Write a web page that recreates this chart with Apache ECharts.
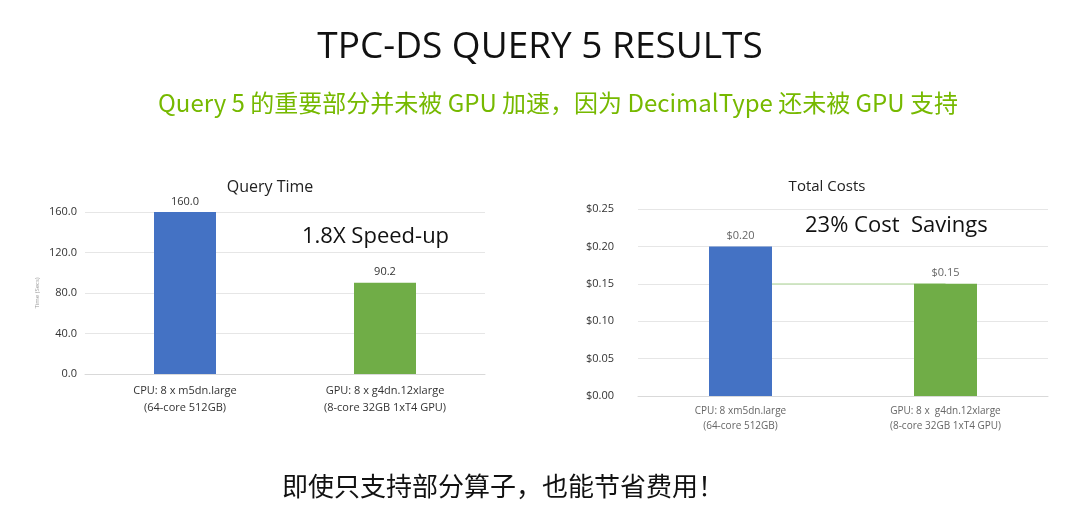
<!DOCTYPE html>
<html><head><meta charset="utf-8">
<script src="https://cdn.jsdelivr.net/npm/echarts@6/dist/echarts.min.js"></script>
<style>html,body{margin:0;padding:0;background:#fff}#chart{width:1080px;height:531px}</style>
</head><body><div id="chart"></div>
<script>
// 数据
var categories = ['CPU: 8 x m5dn.large\n(64-core 512GB)', 'GPU: 8 x g4dn.12xlarge\n(8-core 32GB 1xT4 GPU)'];
var costCategories = ['CPU: 8 xm5dn.large\n(64-core 512GB)', 'GPU: 8 x  g4dn.12xlarge\n(8-core 32GB 1xT4 GPU)'];
var queryTime = [160.0, 90.2];
var totalCosts = [0.20, 0.15];
var barColors = ['#4472c4', '#70ad47'];

var font = '"Open Sans", "Noto Sans CJK SC", sans-serif';
var cjk = '"Noto Sans CJK SC", "Open Sans", sans-serif';
var myChart = echarts.init(document.getElementById('chart'));

function bars(vals) {
    return vals.map(function (v, i) {
        return { value: v, itemStyle: { color: barColors[i] } };
    });
}

var option = {
    backgroundColor: '#fff',
    textStyle: { fontFamily: font },
    title: [
        { text: 'TPC-DS QUERY 5 RESULTS', left: 'center', top: 24, textStyle: { fontSize: 37, fontWeight: 'normal', color: '#111', fontFamily: font } },
        { text: 'Query 5 的重要部分并未被 GPU 加速，因为 DecimalType 还未被 GPU 支持', left: 553, top: 86, textAlign: 'center', textStyle: { fontSize: 24, fontWeight: 'normal', color: '#76b900', fontFamily: cjk } },
        { text: 'Query Time', left: 265, top: 174, textAlign: 'center', textStyle: { fontSize: 16, fontWeight: 'normal', color: '#222' } },
        { text: 'Total Costs', left: 822, top: 174, textAlign: 'center', textStyle: { fontSize: 15, fontWeight: 'normal', color: '#222' } },
        { text: '1.8X Speed-up', left: 297, top: 221, textStyle: { fontSize: 22, fontWeight: 'normal', color: '#111' } },
        { text: '23% Cost  Savings', left: 800, top: 210, textStyle: { fontSize: 22, fontWeight: 'normal', color: '#111' } },
        { text: '即使只支持部分算子，也能节省费用！', left: 498, top: 468, textAlign: 'center', textStyle: { fontSize: 26, fontWeight: 'normal', color: '#111', fontFamily: cjk } }
    ],
    grid: [
        { left: 85, right: 595, top: 212, bottom: 157 },
        { left: 638, right: 32, top: 209, bottom: 135 }
    ],
    xAxis: [
        { type: 'category', gridIndex: 0, data: categories, axisTick: { show: false },
          axisLine: { lineStyle: { color: '#d9d9d9' } },
          axisLabel: { color: '#333', fontSize: 11, lineHeight: 17, margin: 8 } },
        { type: 'category', gridIndex: 1, data: costCategories, axisTick: { show: false },
          axisLine: { lineStyle: { color: '#d9d9d9' } },
          axisLabel: { color: '#666', fontSize: 10, lineHeight: 15, margin: 8 } }
    ],
    yAxis: [
        { type: 'value', gridIndex: 0, min: 0, max: 160, interval: 40,
          name: 'Time (Secs)', nameLocation: 'middle', nameGap: 45, nameTextStyle: { fontSize: 6, color: '#999' },
          axisLine: { show: false }, axisTick: { show: false },
          splitLine: { lineStyle: { color: '#e6e6e6' } },
          axisLabel: { color: '#333', fontSize: 11, formatter: function (v) { return v.toFixed(1); } } },
        { type: 'value', gridIndex: 1, min: 0, max: 0.25, interval: 0.05,
          axisLine: { show: false }, axisTick: { show: false },
          splitLine: { lineStyle: { color: '#e6e6e6' } },
          axisLabel: { color: '#333', fontSize: 11, margin: 24, formatter: function (v) { return '$' + v.toFixed(2); } } }
    ],
    series: [
        { type: 'bar', xAxisIndex: 0, yAxisIndex: 0, barWidth: 62, data: bars(queryTime),
          label: { show: true, position: 'top', color: '#333', fontSize: 11, formatter: function (p) { return p.value.toFixed(1); } } },
        { type: 'bar', xAxisIndex: 1, yAxisIndex: 1, barWidth: 63, data: bars(totalCosts), z: 3,
          label: { show: true, position: 'top', color: '#666', fontSize: 11, formatter: function (p) { return '$' + p.value.toFixed(2); } },
          markLine: { silent: true, z: 1, symbol: 'none', label: { show: false }, lineStyle: { color: '#c5e0b4', type: 'solid', width: 1.5 },
            data: [[{ coord: [0, totalCosts[1]] }, { coord: [1, totalCosts[1]] }]] } }
    ]
};
myChart.setOption(option);
</script></body></html>
